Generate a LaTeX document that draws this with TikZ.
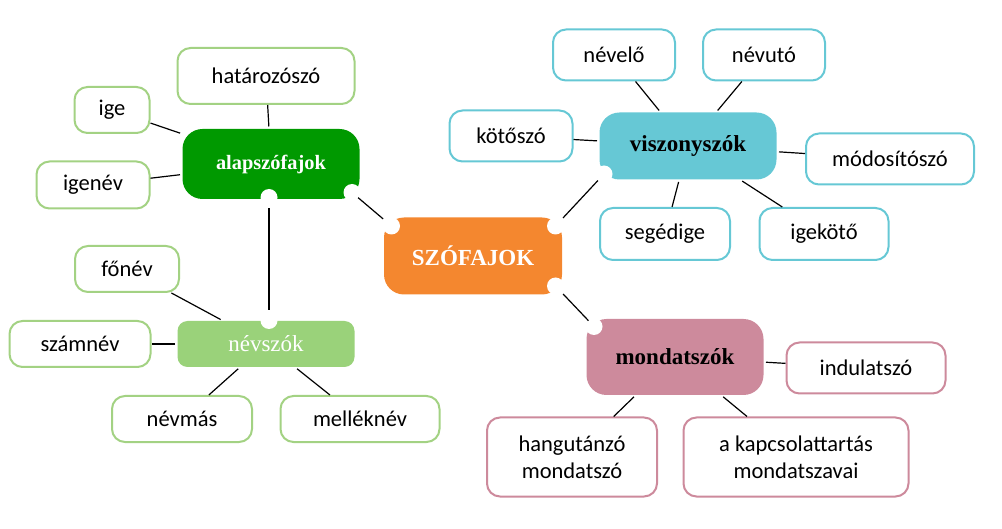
\documentclass[tikz,border=0pt]{standalone}
\usepackage{fontspec}
\setmainfont{Liberation Serif}
\newfontfamily\leaffont{Carlito}
\usetikzlibrary{calc}

\definecolor{szofajorange}{HTML}{F4872F}
\definecolor{alapgreen}{HTML}{009900}
\definecolor{nevgreen}{HTML}{9AD27A}
\definecolor{leafgreen}{HTML}{A3D283}
\definecolor{viszcyan}{HTML}{66C8D5}
\definecolor{mondpink}{HTML}{CD8A9C}

\tikzset{every picture/.style={line width=1pt}}

\begin{document}
\begin{tikzpicture}[x=1pt,y=1pt,yscale=-1,xscale=1,
  hub/.style={rounded corners=20pt, inner sep=0pt, font=\fontsize{23}{27}\selectfont\bfseries},
  leaf/.style={draw, line width=2pt, rounded corners=13pt, fill=white, inner sep=0pt, align=center, font=\leaffont\fontsize{22.5}{27}\selectfont},
  link/.style={line width=1.2pt, draw=black},
  notch/.style={fill=white, draw=none},
]
\useasboundingbox (0,0) rectangle (1002,529);

% Hub nodes
\node[hub, fill=szofajorange, text=white, minimum width=178, minimum height=77] (szofaj) at (473,256) {SZÓFAJOK};
\node[hub, fill=alapgreen, text=white, minimum width=177, minimum height=70, font=\fontsize{20.4}{24}\selectfont\bfseries] (alap) at (271,164) {alapszófajok};
\node[hub, fill=nevgreen, text=white, minimum width=177, minimum height=46, rounded corners=10pt, font=\fontsize{23}{27}\selectfont] (nevszo) at (266,344) {névszók};
\node[hub, fill=viszcyan, minimum width=177, minimum height=67] (visz) at (688,146) {viszonyszók};
\node[hub, fill=mondpink, minimum width=177, minimum height=76] (mondat) at (675,357) {mondatszók};

% alapszófajok leaves
\node[leaf, draw=leafgreen, minimum width=177, minimum height=56] (hatarozo) at (266,76) {határozószó};
\node[leaf, draw=leafgreen, minimum width=75, minimum height=46] (ige) at (112,110) {ige};
\node[leaf, draw=leafgreen, minimum width=113, minimum height=47] (igenev) at (93,185) {igenév};

% névszók leaves
\node[leaf, draw=leafgreen, minimum width=104, minimum height=46] (fonev) at (127,269) {főnév};
\node[leaf, draw=leafgreen, minimum width=141, minimum height=46] (szamnev) at (80,344) {számnév};
\node[leaf, draw=leafgreen, minimum width=140, minimum height=46] (nevmas) at (182,419) {névmás};
\node[leaf, draw=leafgreen, minimum width=159, minimum height=46] (mellek) at (360,419) {melléknév};

% viszonyszók leaves
\node[leaf, draw=viszcyan, minimum width=122, minimum height=51] (nevelo) at (614,55) {névelő};
\node[leaf, draw=viszcyan, minimum width=122, minimum height=51] (nevuto) at (764,55) {névutó};
\node[leaf, draw=viszcyan, minimum width=123, minimum height=51] (kotoszo) at (511,136) {kötőszó};
\node[leaf, draw=viszcyan, minimum width=168, minimum height=51] (modosito) at (890,159) {módosítószó};
\node[leaf, draw=viszcyan, minimum width=130, minimum height=52] (segedige) at (665,234) {segédige};
\node[leaf, draw=viszcyan, minimum width=129, minimum height=52] (igekoto) at (824,234) {igekötő};

% mondatszók leaves
\node[leaf, draw=mondpink, minimum width=159, minimum height=51] (indulat) at (866,368) {indulatszó};
\node[leaf, draw=mondpink, minimum width=170, minimum height=79] (hangutanzo) at (572,457) {hangutánzó\\mondatszó};
\node[leaf, draw=mondpink, minimum width=225, minimum height=79] (kapcsolat) at (796,457) {a kapcsolattartás\\mondatszavai};

% notches
\coordinate (alapS) at ($(alap.south)+(-2,-2)$);
\coordinate (alapSE) at ($(alap.south east)+(-8,-7)$);
\coordinate (nevszoN) at ($(nevszo.north)+(3,0)$);
\coordinate (szofajNW) at ($(szofaj.north west)+(8,9)$);
\coordinate (szofajNE) at ($(szofaj.north east)+(-7,9)$);
\coordinate (szofajSE) at ($(szofaj.south east)+(-7,-9)$);
\coordinate (viszSW) at ($(visz.south west)+(5,-6)$);
\coordinate (mondatNW) at ($(mondat.north west)+(8,8)$);
\foreach \n in {alapS,alapSE,nevszoN,szofajNW,szofajNE,szofajSE,viszSW,mondatNW}
  \fill[notch] (\n) circle (8.5);

% hub connections
\draw[link, shorten <=11, shorten >=10] (alapS) -- (nevszoN);
\draw[link, shorten <=8, shorten >=11] (alapSE) -- (szofajNW);
\draw[link, shorten <=11, shorten >=9] (szofajNE) -- (viszSW);
\draw[link, shorten <=11, shorten >=8] (szofajSE) -- (mondatNW);

% leaf connections
\foreach \a/\b in {alap/hatarozo, alap/ige, alap/igenev,
                   nevszo/fonev, nevszo/szamnev, nevszo/nevmas, nevszo/mellek,
                   visz/nevelo, visz/nevuto, visz/kotoszo, visz/modosito, visz/segedige, visz/igekoto,
                   mondat/indulat, mondat/hangutanzo, mondat/kapcsolat}
  \draw[link, shorten <=2] (\a) -- (\b);

\end{tikzpicture}
\end{document}
